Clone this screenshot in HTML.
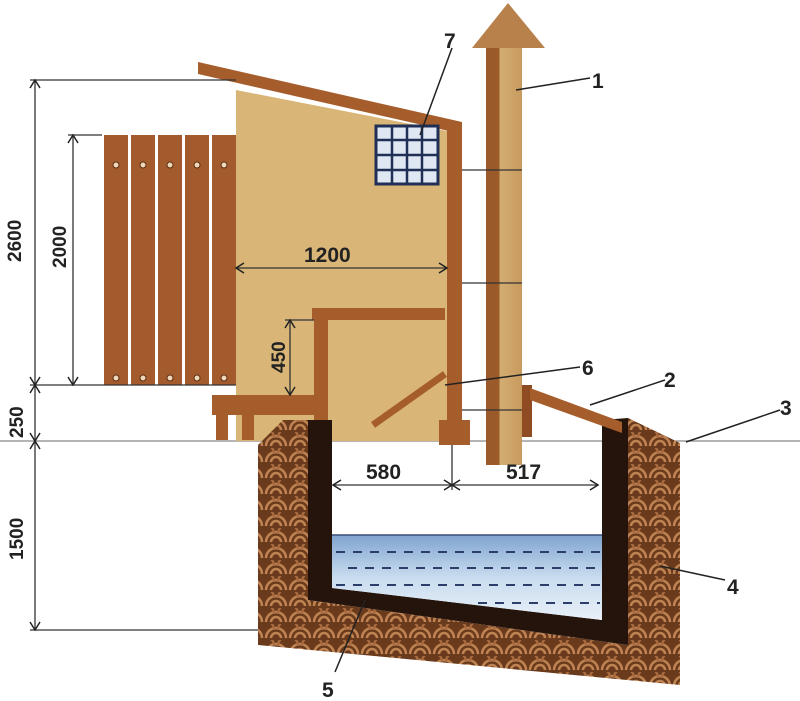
<!DOCTYPE html>
<html><head><meta charset="utf-8"><style>
html,body{margin:0;padding:0;background:#fff}
svg{display:block}
text{font-family:"Liberation Sans",sans-serif;font-weight:bold;fill:#222}
</style></head><body>
<svg width="800" height="701" viewBox="0 0 800 701" xmlns="http://www.w3.org/2000/svg">
<defs>
<pattern id="soil" width="24" height="16" patternUnits="userSpaceOnUse">
<rect width="24" height="16" fill="#6a3a1c"/>
<path d="M2 14 A10 10 0 0 1 22 14 M7 14 A5 5 0 0 1 17 14" fill="none" stroke="#c08453" stroke-width="2.5"/>
<path d="M-10 6 A10 10 0 0 1 10 6 M14 6 A10 10 0 0 1 34 6" fill="none" stroke="#a66a3e" stroke-width="2.5"/>
</pattern>
<linearGradient id="water" x1="0" y1="0" x2="0" y2="1">
<stop offset="0" stop-color="#7fa4cf"/><stop offset="0.5" stop-color="#c9dcef"/><stop offset="1" stop-color="#e8f0f8"/>
</linearGradient>
<linearGradient id="pipe" x1="0" y1="0" x2="1" y2="0">
<stop offset="0" stop-color="#9a5a2a"/><stop offset="0.35" stop-color="#9a5a2a"/><stop offset="0.4" stop-color="#d2ad72"/><stop offset="1" stop-color="#c89a5e"/>
</linearGradient>
</defs>
<line x1="0" y1="441" x2="800" y2="441" stroke="#888" stroke-width="1.3"/>
<!-- house wall -->
<polygon points="236,90 452,132 452,441 236,441" fill="#d9b677"/>
<polygon points="198,62 462,122 462,134 198,74" fill="#a65d2c"/>
<rect x="447" y="130" width="15" height="292" fill="#a65d2c"/>
<rect x="439" y="420" width="31" height="25" fill="#a65d2c"/>
<!-- door -->
<g fill="#a35a2c">
<rect x="104" y="135" width="24" height="250"/><rect x="131" y="135" width="24" height="250"/><rect x="158" y="135" width="24" height="250"/><rect x="185" y="135" width="24" height="250"/><rect x="212" y="135" width="24" height="250"/>
</g>
<g fill="#f0d8b8" stroke="#5a2e16" stroke-width="1">
<circle cx="116" cy="165" r="3"/><circle cx="143" cy="165" r="3"/><circle cx="170" cy="165" r="3"/><circle cx="197" cy="165" r="3"/><circle cx="224" cy="165" r="3"/>
<circle cx="116" cy="378" r="3"/><circle cx="143" cy="378" r="3"/><circle cx="170" cy="378" r="3"/><circle cx="197" cy="378" r="3"/><circle cx="224" cy="378" r="3"/>
</g>
<!-- window -->
<rect x="376" y="126" width="62" height="58" fill="#dfe7f3" stroke="#1f2f55" stroke-width="3"/>
<g stroke="#1f2f55" stroke-width="2.5">
<line x1="392" y1="126" x2="392" y2="184"/><line x1="407" y1="126" x2="407" y2="184"/><line x1="422" y1="126" x2="422" y2="184"/>
<line x1="376" y1="140" x2="438" y2="140"/><line x1="376" y1="155" x2="438" y2="155"/><line x1="376" y1="170" x2="438" y2="170"/>
</g>
<!-- seat -->
<rect x="312" y="308" width="133" height="12" fill="#a65d2c"/>
<rect x="314" y="320" width="14" height="121" fill="#a65d2c"/>
<rect x="212" y="395" width="116" height="20" fill="#a65d2c"/>
<rect x="216" y="415" width="12" height="25" fill="#a65d2c"/><rect x="242" y="415" width="12" height="25" fill="#a65d2c"/>
<line x1="373" y1="425" x2="445" y2="374" stroke="#a65d2c" stroke-width="7"/>
<!-- pit -->
<polygon points="258,445 283,420 308,420 308,600 628,645 628,418 680,443 680,685 258,645" fill="url(#soil)"/>
<polygon points="308,420 332,420 332,588 602,620 602,420 628,418 628,645 308,600" fill="#24140c"/>
<polygon points="332,535 602,535 602,620 332,588" fill="url(#water)"/>
<line x1="332" y1="535" x2="602" y2="535" stroke="#3a4f78" stroke-width="1.5"/>
<g stroke="#2c3f6a" stroke-width="2" stroke-dasharray="9,8">
<line x1="336" y1="552" x2="600" y2="552"/><line x1="348" y1="568" x2="600" y2="568"/><line x1="336" y1="585" x2="600" y2="585"/><line x1="478" y1="603" x2="600" y2="603"/>
</g>
<!-- lid 2 -->
<rect x="522" y="385" width="10" height="52" fill="#8f4c22"/>
<polygon points="530,388 622,422 622,433 530,400" fill="#a65d2c"/>
<!-- pipe -->
<rect x="486" y="45" width="36" height="420" fill="url(#pipe)"/>
<polygon points="472,48 545,48 508,3" fill="#b8804a"/>
<!-- dimensions -->
<g stroke="#333" stroke-width="1.3" fill="none">
<line x1="35" y1="80" x2="35" y2="630"/>
<line x1="30" y1="80" x2="236" y2="80"/>
<line x1="30" y1="385" x2="236" y2="385"/>
<line x1="30" y1="630" x2="258" y2="630"/>
<line x1="73" y1="135" x2="73" y2="385"/>
<line x1="68" y1="135" x2="102" y2="135"/>
<line x1="236" y1="268" x2="447" y2="268"/>
<line x1="290" y1="320" x2="290" y2="395"/>
<line x1="285" y1="320" x2="314" y2="320"/>
<line x1="333" y1="485" x2="598" y2="485"/>
<line x1="452" y1="445" x2="452" y2="490"/>
<line x1="462" y1="170" x2="522" y2="170"/><line x1="462" y1="283" x2="522" y2="283"/><line x1="462" y1="410" x2="522" y2="410"/>
</g>
<g stroke="#222" stroke-width="1.5" fill="none">
<path d="M30 88 L35 80 L40 88 M30 377 L35 385 L40 377 M30 393 L35 385 L40 393 M30 433 L35 441 L40 433 M30 449 L35 441 L40 449 M30 622 L35 630 L40 622"/>
<path d="M68 143 L73 135 L78 143 M68 377 L73 385 L78 377"/>
<path d="M244 263 L236 268 L244 273 M439 263 L447 268 L439 273"/>
<path d="M285 328 L290 320 L295 328 M285 387 L290 395 L295 387"/>
<path d="M341 480 L333 485 L341 490 M444 480 L452 485 L444 490 M460 480 L452 485 L460 490 M590 480 L598 485 L590 490"/>
</g>
<!-- leaders -->
<g stroke="#222" stroke-width="1.5">
<line x1="516" y1="90" x2="590" y2="78"/>
<line x1="420" y1="135" x2="452" y2="48"/>
<line x1="445" y1="385" x2="580" y2="367"/>
<line x1="590" y1="405" x2="665" y2="380"/>
<line x1="686" y1="442" x2="780" y2="410"/>
<line x1="660" y1="566" x2="725" y2="580"/>
<line x1="365" y1="600" x2="335" y2="672"/>
</g>
<g font-size="21">
<text x="592" y="88">1</text>
<text x="444" y="48">7</text>
<text x="582" y="375">6</text>
<text x="664" y="387">2</text>
<text x="780" y="415">3</text>
<text x="727" y="594">4</text>
<text x="322" y="697">5</text>
<text x="304" y="262">1200</text>
<text x="366" y="479">580</text>
<text x="506" y="479">517</text>
</g>
<g font-size="19">
<text transform="translate(21,262) rotate(-90)">2600</text>
<text transform="translate(66,268) rotate(-90)">2000</text>
<text transform="translate(285,373) rotate(-90)">450</text>
<text transform="translate(23,438) rotate(-90)">250</text>
<text transform="translate(23,560) rotate(-90)">1500</text>
</g>
</svg>
</body></html>
